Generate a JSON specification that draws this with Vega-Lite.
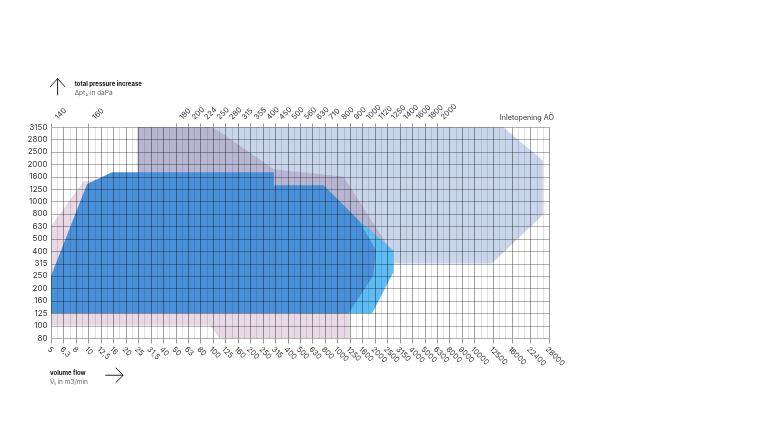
{
  "$schema": "https://vega.github.io/schema/vega-lite/v6.json",
  "width": 498,
  "height": 211,
  "autosize": "none",
  "padding": {"left": 51, "top": 127, "right": 219, "bottom": 85},
  "background": "white",
  "config": {"view": {"stroke": null}, "font": "Inter", "text": {"font": "Inter"}},
  "datasets": {
    "poly": [
      {"s": "pink", "o": 0, "x": 0, "y": 1},
      {"s": "pink", "o": 1, "x": 0, "y": 9},
      {"s": "pink", "o": 2, "x": 2.6, "y": 12.6},
      {"s": "pink", "o": 3, "x": 6.95, "y": 13.3},
      {"s": "pink", "o": 4, "x": 6.95, "y": 17},
      {"s": "pink", "o": 5, "x": 13, "y": 17},
      {"s": "pink", "o": 6, "x": 17.9, "y": 13.6},
      {"s": "pink", "o": 7, "x": 23.5, "y": 13.0},
      {"s": "pink", "o": 8, "x": 27.0, "y": 7.5},
      {"s": "pink", "o": 9, "x": 27.0, "y": 4.5},
      {"s": "pink", "o": 10, "x": 24.0, "y": 2.0},
      {"s": "pink", "o": 11, "x": 24.0, "y": 0},
      {"s": "pink", "o": 12, "x": 13.5, "y": 0},
      {"s": "pink", "o": 13, "x": 12.8, "y": 1},
      {"s": "lb", "o": 0, "x": 6.95, "y": 17},
      {"s": "lb", "o": 1, "x": 36.3, "y": 17},
      {"s": "lb", "o": 2, "x": 39.5, "y": 14.3},
      {"s": "lb", "o": 3, "x": 39.5, "y": 9.9},
      {"s": "lb", "o": 4, "x": 35.4, "y": 6},
      {"s": "lb", "o": 5, "x": 27.5, "y": 6},
      {"s": "lb", "o": 6, "x": 26, "y": 3},
      {"s": "lb", "o": 7, "x": 6.95, "y": 3},
      {"s": "cyan", "o": 0, "x": 20, "y": 2},
      {"s": "cyan", "o": 1, "x": 20, "y": 10},
      {"s": "cyan", "o": 2, "x": 24.7, "y": 9.5},
      {"s": "cyan", "o": 3, "x": 27.5, "y": 7.07},
      {"s": "cyan", "o": 4, "x": 27.5, "y": 5.3},
      {"s": "cyan", "o": 5, "x": 25.8, "y": 2.0},
      {"s": "blue", "o": 0, "x": 0, "y": 2},
      {"s": "blue", "o": 1, "x": 0, "y": 5},
      {"s": "blue", "o": 2, "x": 2.9, "y": 12.4},
      {"s": "blue", "o": 3, "x": 4.9, "y": 13.35},
      {"s": "blue", "o": 4, "x": 17.9, "y": 13.35},
      {"s": "blue", "o": 5, "x": 17.9, "y": 12.3},
      {"s": "blue", "o": 6, "x": 21.9, "y": 12.3},
      {"s": "blue", "o": 7, "x": 24.7, "y": 9.5},
      {"s": "blue", "o": 8, "x": 26.1, "y": 7.07},
      {"s": "blue", "o": 9, "x": 25.9, "y": 5.06},
      {"s": "blue", "o": 10, "x": 23.9, "y": 2.0}
    ]
  },
  "layer": [
    {
      "data": {"name": "poly"},
      "transform": [{"filter": "datum.s === 'pink'"}],
      "mark": {"type": "line", "interpolate": "linear-closed", "fill": "#e9d9e4", "strokeOpacity": 0, "strokeWidth": 0, "blend": "multiply"},
      "encoding": {
        "x": {"field": "x", "type": "quantitative", "scale": {"domain": [0, 40], "nice": false, "zero": false},
          "axis": {"orient": "bottom", "values": [0,0.5,1,1.5,2,2.5,3,3.5,4,4.5,5,5.5,6,6.5,7,7.5,8,8.5,9,9.5,10,10.5,11,11.5,12,12.5,13,13.5,14,14.5,15,15.5,16,16.5,17,17.5,18,18.5,19,19.5,20,20.5,21,21.5,22,22.5,23,23.5,24,24.5,25,25.5,26,26.5,27,27.5,28,28.5,29,29.5,30,30.5,31,31.5,32,32.5,33,33.5,34,34.5,35,35.5,36,36.5,37,37.5,38,38.5,39,39.5,40],
            "grid": true, "gridColor": "#000000", "gridOpacity": 0.12, "labels": false, "ticks": false, "domain": false, "title": null, "zindex": 1}},
        "y": {"field": "y", "type": "quantitative", "scale": {"domain": [0, 17], "nice": false, "zero": false},
          "axis": {"orient": "left", "values": [0,1,2,3,4,5,6,7,8,9,10,11,12,13,14,15,16,17],
            "labelExpr": "['80','100','125','160','200','250','315','400','500','630','800','1000','1250','1600','2000','2500','2800','3150'][datum.value]",
            "grid": true, "gridColor": "#000000", "gridOpacity": 0.3, "ticks": false, "domain": false, "title": null,
            "labelFontSize": 8, "labelColor": "#333333", "labelPadding": 4, "labelFont": "Inter", "zindex": 1}},
        "order": {"field": "o", "type": "quantitative"}
      }
    },
    {
      "data": {"name": "poly"},
      "transform": [{"filter": "datum.s === 'lb'"}],
      "mark": {"type": "line", "interpolate": "linear-closed", "fill": "#c9d5eb", "strokeOpacity": 0, "strokeWidth": 0, "blend": "multiply"},
      "encoding": {
        "x": {"field": "x", "type": "quantitative", "scale": {"domain": [0, 40], "nice": false, "zero": false},
          "axis": {"orient": "bottom", "values": [0,1,2,3,4,5,6,7,8,9,10,11,12,13,14,15,16,17,18,19,20,21,22,23,24,25,26,27,28,29,30,31,32,33,34,35.5,37,38.5,40],
            "labelExpr": "datum.value <= 34 ? ['5','6,3','8','10','12,5','16','20','25','31,5','40','50','63','80','100','125','160','200','250','315','400','500','630','800','1000','1250','1600','2000','2500','3150','4000','5000','6300','8000','9000','10000'][datum.value] : ['12500','16000','22400','28000'][(datum.value - 35.5) / 1.5]",
            "grid": true, "gridColor": "#000000", "gridOpacity": 0.28, "ticks": true, "tickSize": 5, "tickColor": "#999999", "domain": false, "title": null,
            "labelAngle": 45, "labelAlign": "left", "labelBaseline": "top", "labelFontSize": 7.5, "labelColor": "#333333", "labelPadding": 2, "labelFont": "Inter", "labelOverlap": false, "zindex": 1}},
        "y": {"field": "y", "type": "quantitative", "scale": {"domain": [0, 17], "nice": false, "zero": false}, "axis": null},
        "order": {"field": "o", "type": "quantitative"}
      }
    },
    {
      "data": {"name": "poly"},
      "transform": [{"filter": "datum.s === 'cyan'"}],
      "mark": {"type": "line", "interpolate": "linear-closed", "fill": "#5cbcf3", "strokeOpacity": 0, "strokeWidth": 0},
      "encoding": {
        "x": {"field": "x", "type": "quantitative", "scale": {"domain": [0, 40], "nice": false, "zero": false},
          "axis": {"orient": "top", "values": [0,3,10,11,12,13,14,15,16,17,18,19,20,21,22,23,24,25,26,27,28,29,30,31],
            "labelExpr": "['140','160','180','200','224','250','280','315','355','400','450','500','560','630','710','800','900','1000','1120','1250','1400','1600','1800','2000'][indexof([0,3,10,11,12,13,14,15,16,17,18,19,20,21,22,23,24,25,26,27,28,29,30,31], datum.value)]",
            "grid": false, "ticks": true, "tickSize": 4, "tickColor": "#999999", "domain": false, "title": null,
            "labelAngle": -45, "labelAlign": "left", "labelBaseline": "middle", "labelFontSize": 7.5, "labelColor": "#333333", "labelPadding": 5, "labelOffset": 5, "labelFont": "Inter", "labelOverlap": false, "zindex": 1}},
        "y": {"field": "y", "type": "quantitative", "scale": {"domain": [0, 17], "nice": false, "zero": false}, "axis": null},
        "order": {"field": "o", "type": "quantitative"}
      }
    },
    {
      "data": {"name": "poly"},
      "transform": [{"filter": "datum.s === 'blue'"}],
      "mark": {"type": "line", "interpolate": "linear-closed", "fill": "#4a90d9", "strokeOpacity": 0, "strokeWidth": 0},
      "encoding": {
        "x": {"field": "x", "type": "quantitative", "scale": {"domain": [0, 40], "nice": false, "zero": false}, "axis": null},
        "y": {"field": "y", "type": "quantitative", "scale": {"domain": [0, 17], "nice": false, "zero": false}, "axis": null},
        "order": {"field": "o", "type": "quantitative"}
      }
    },
    {
      "data": {"values": [
        {"x": 1.9, "y": 20.45, "t": "total pressure increase"},
        {"x": -0.08, "y": -2.78, "t": "volume flow"}
      ]},
      "mark": {"type": "text", "align": "left", "baseline": "middle", "fontSize": 6, "fontWeight": "bold", "color": "#111111", "font": "Inter"},
      "encoding": {
        "x": {"field": "x", "type": "quantitative", "scale": {"domain": [0, 40], "nice": false, "zero": false}, "axis": null},
        "y": {"field": "y", "type": "quantitative", "scale": {"domain": [0, 17], "nice": false, "zero": false}, "axis": null},
        "text": {"field": "t"}
      }
    },
    {
      "data": {"values": [
        {"x": 1.9, "y": 19.7, "t": "Δpt₂ in daPa"},
        {"x": -0.08, "y": -3.55, "t": "V̇₁ in m3/min"}
      ]},
      "mark": {"type": "text", "align": "left", "baseline": "middle", "fontSize": 6.5, "color": "#666666", "font": "Inter"},
      "encoding": {
        "x": {"field": "x", "type": "quantitative", "scale": {"domain": [0, 40], "nice": false, "zero": false}, "axis": null},
        "y": {"field": "y", "type": "quantitative", "scale": {"domain": [0, 17], "nice": false, "zero": false}, "axis": null},
        "text": {"field": "t"}
      }
    },
    {
      "data": {"values": [
        {"x": 40.4, "y": 17.75, "t": "Inletopening AÖ"}
      ]},
      "mark": {"type": "text", "align": "right", "baseline": "middle", "fontSize": 7.2, "color": "#333333", "font": "Inter"},
      "encoding": {
        "x": {"field": "x", "type": "quantitative", "scale": {"domain": [0, 40], "nice": false, "zero": false}, "axis": null},
        "y": {"field": "y", "type": "quantitative", "scale": {"domain": [0, 17], "nice": false, "zero": false}, "axis": null},
        "text": {"field": "t"}
      }
    },
    {
      "data": {"values": [
        {"x": 0.53, "y": 19.55, "x2": 0.53, "y2": 20.9},
        {"x": 4.36, "y": -3.0, "x2": 5.8, "y2": -3.0}
      ]},
      "mark": {"type": "rule", "color": "#222222", "strokeWidth": 1},
      "encoding": {
        "x": {"field": "x", "type": "quantitative", "scale": {"domain": [0, 40], "nice": false, "zero": false}, "axis": null},
        "y": {"field": "y", "type": "quantitative", "scale": {"domain": [0, 17], "nice": false, "zero": false}, "axis": null},
        "x2": {"field": "x2"},
        "y2": {"field": "y2"}
      }
    },
    {
      "data": {"values": [
        {"a": "up", "o": 0, "x": -0.07, "y": 20.23},
        {"a": "up", "o": 1, "x": 0.53, "y": 20.9},
        {"a": "up", "o": 2, "x": 1.13, "y": 20.23},
        {"a": "right", "o": 0, "x": 5.2, "y": -2.4},
        {"a": "right", "o": 1, "x": 5.8, "y": -3.0},
        {"a": "right", "o": 2, "x": 5.2, "y": -3.6}
      ]},
      "mark": {"type": "line", "color": "#222222", "strokeWidth": 1},
      "encoding": {
        "x": {"field": "x", "type": "quantitative", "scale": {"domain": [0, 40], "nice": false, "zero": false}, "axis": null},
        "y": {"field": "y", "type": "quantitative", "scale": {"domain": [0, 17], "nice": false, "zero": false}, "axis": null},
        "detail": {"field": "a"},
        "order": {"field": "o", "type": "quantitative"}
      }
    }
  ],
  "resolve": {"axis": {"x": "independent", "y": "independent"}}
}
